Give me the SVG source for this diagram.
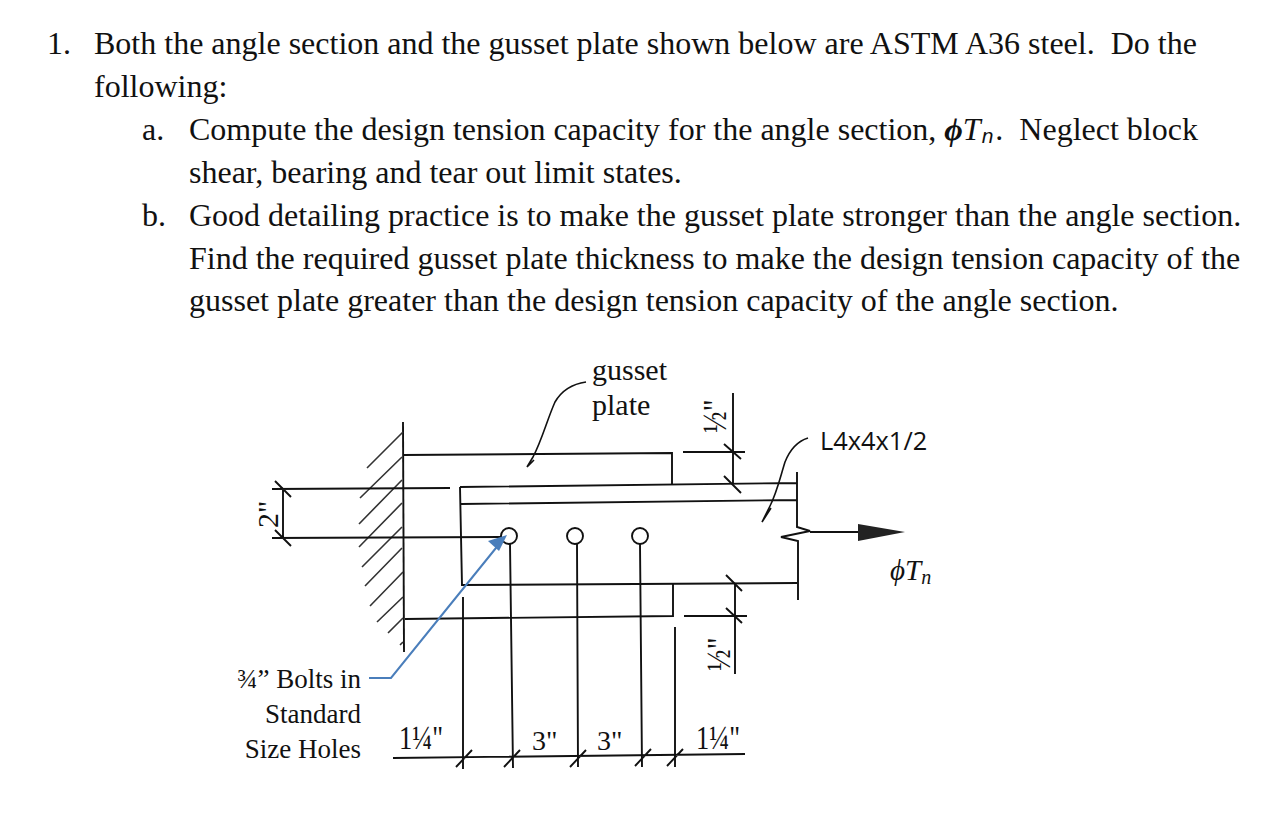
<svg xmlns="http://www.w3.org/2000/svg" width="1261" height="819" viewBox="0 0 1261 819">
<style>
text{font-family:"Liberation Serif","Times New Roman",serif;fill:#111}
.q{font-size:32px}
.d{font-size:27px}
.n{font-size:28px}
.g{font-size:34px}
.f{font-size:30px}
.i{font-style:italic}
.l{fill:none;stroke:#111;stroke-width:1.9}
.h{fill:none;stroke:#333;stroke-width:1.6}
.t{fill:none;stroke:#111;stroke-width:1.6}
.b{fill:none;stroke:#4a7ebb;stroke-width:2}
</style>
<rect width="1261" height="819" fill="#fff"/>
<g id="question">
<text class="q" x="47" y="54">1.</text>
<text class="q" x="94" y="54" xml:space="preserve">Both the angle section and the gusset plate shown below are ASTM A36 steel.  Do the</text>
<text class="q" x="94" y="97">following:</text>
<text class="q" x="142" y="140">a.</text>
<text class="q" x="189" y="140" xml:space="preserve">Compute the design tension capacity for the angle section, <tspan class="i" font-weight="bold">ϕ</tspan><tspan class="i">T</tspan><tspan class="i" font-family="Liberation Sans" font-size="21" dy="3" dx="1">n</tspan><tspan dy="-3" dx="2">.  Neglect block</tspan></text>
<text class="q" x="189" y="183">shear, bearing and tear out limit states.</text>
<text class="q" x="142" y="226">b.</text>
<text class="q" x="189" y="226">Good detailing practice is to make the gusset plate stronger than the angle section.</text>
<text class="q" x="189" y="269">Find the required gusset plate thickness to make the design tension capacity of the</text>
<text class="q" x="189" y="311">gusset plate greater than the design tension capacity of the angle section.</text>
</g>
<g id="wall">
<path class="l" d="M403 422L404 652"/>
<path class="h" d="M403 432L367 468M402 457L360 498M402 480L359 524M402 503L359 547M402 527L362 567M402 548L365 586M403 572L370 606M403 597L377 622M403 618L388 633M403 642L400 645"/>
</g>
<g id="gusset-plate">
<path class="l" d="M403 455L672 453V484M405 619L673 616V584"/>
</g>
<g id="angle-section">
<path class="l" d="M460 487L797 483M461 504L797 500M460 487L462 585L797 583M797 472V527L810 531L781 537L798 541V600"/>
</g>
<g id="holes">
<circle class="l" cx="509" cy="536" r="8"/>
<circle class="l" cx="575" cy="536" r="8"/>
<circle class="l" cx="640" cy="536" r="8"/>
</g>
<g id="connectors">
<path class="l" d="M272 489L450 488M272 538L501 537M283 489V538M275 481L291 497M275 530L291 546"/>
<path class="l" d="M510 544L513 768M577 544L578 767M640 544L642 767M463 597V769M675 627V767"/>
<path class="l" d="M393 758L745 754M456 767L472 750M504 767L520 750M570 767L586 750M635 766L651 749M667 766L683 749"/>
<path class="l" d="M733 393V484M683 452H745M724 444L741 459M724 476L741 493"/>
<path class="l" d="M684 616H747M735 583V674M726 575L742 591M726 608L742 623"/>
<path class="t" d="M586 382C572 384 562 390 555 402C547 420 542 440 533 457L527 467L534 460"/>
<path class="t" d="M808 438C795 442 789 452 785 462C780 478 777 492 770 506L762 522L771 508"/>
<path class="l" d="M810 532H858"/>
<path d="M858 524L905 532L858 541Z" fill="#222"/>
<path class="b" d="M369 678H391L500 543"/>
<path d="M507 535L499 551L488 541Z" fill="#4a7ebb"/>
</g>
<g id="labels">
<text class="f" x="592" y="380">gusset</text>
<text class="f" x="592" y="415">plate</text>
<text x="820" y="450" font-size="25.4" style="font-family:'Open Sans','Noto Sans',sans-serif">L4x4x1/2</text>
<text x="890" y="580" font-size="29" class="i">ϕT<tspan font-size="20" dy="4">n</tspan></text>
<text class="d" x="361" y="688" text-anchor="end">¾” Bolts in</text>
<text class="d" x="361" y="723" text-anchor="end">Standard</text>
<text class="d" x="361" y="758" text-anchor="end">Size Holes</text>
<text class="g" transform="translate(399 749) scale(.78 1)">1¼"</text>
<text class="n" x="532" y="750">3"</text>
<text class="n" x="597" y="750">3"</text>
<text class="g" transform="translate(696 749) scale(.78 1)">1¼"</text>
<text class="f" transform="translate(278 528) rotate(-90)">2"</text>
<text class="g" transform="translate(726 433) rotate(-90) scale(.85 1)">½"</text>
<text class="g" transform="translate(730 671) rotate(-90) scale(.85 1)">½"</text>
</g>
</svg>
